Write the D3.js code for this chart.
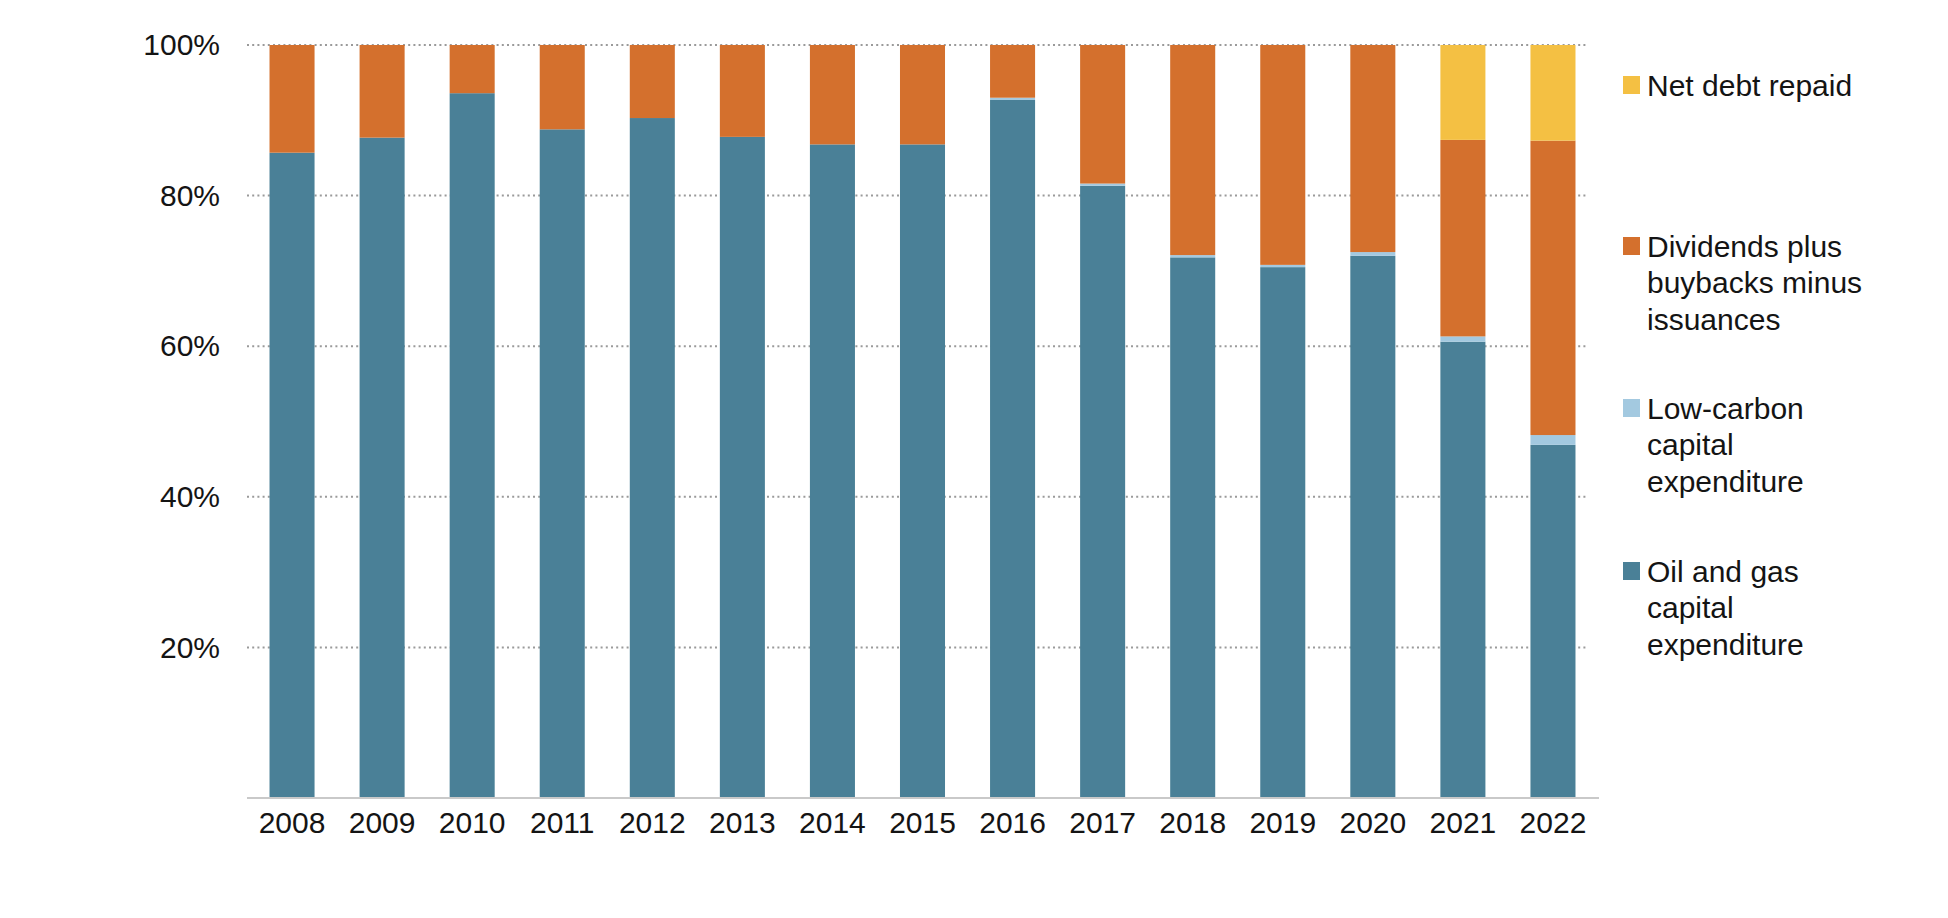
<!DOCTYPE html>
<html>
<head>
<meta charset="utf-8">
<script src="https://cdn.jsdelivr.net/npm/d3@7"></script>
<style>
    html, body { margin: 0; padding: 0; background: #fff; }
    text { font-family: "Liberation Sans", Arial, sans-serif; fill: #141414; }
</style>
</head>
<body>
<svg id="chart" width="1948" height="918"></svg>
<script>
// years on the x axis
var years = ['2008', '2009', '2010', '2011', '2012', '2013', '2014', '2015',
             '2016', '2017', '2018', '2019', '2020', '2021', '2022']

// shares of spending, in %
var oilGas     = [85.7, 87.7, 93.6, 88.8, 90.3, 87.8, 86.8, 86.8, 92.7, 81.3, 71.8, 70.5, 72.0, 60.6, 46.9]
var lowCarbon  = [0, 0, 0, 0, 0, 0, 0, 0, 0.3, 0.3, 0.3, 0.3, 0.5, 0.7, 1.3]
var dividends  = [14.3, 12.3, 6.4, 11.2, 9.7, 12.2, 13.2, 13.2, 7.0, 18.4, 27.9, 29.2, 27.5, 26.1, 39.1]
var netDebt    = [0, 0, 0, 0, 0, 0, 0, 0, 0, 0, 0, 0, 0, 12.6, 12.7]

var yTicks = [20, 40, 60, 80, 100]

// bottom to top stacking order
var seriesKeys = ['oil', 'low', 'div', 'debt']
var seriesColors = ['#4a8097', '#a3c9e0', '#d4702d', '#f4c043']

// legend reads top to bottom (reverse of stack)
var legendLabels = [
    ['Net debt repaid'],
    ['Dividends plus', 'buybacks minus', 'issuances'],
    ['Low-carbon', 'capital', 'expenditure'],
    ['Oil and gas', 'capital', 'expenditure']
]
var legendColors = ['#f4c043', '#d4702d', '#a3c9e0', '#4a8097']

var rows = years.map(function (yr, i) {
    return { year: yr, oil: oilGas[i], low: lowCarbon[i], div: dividends[i], debt: netDebt[i] }
})

var svg = d3.select('#chart')

var x = d3.scaleBand()
          .domain(years)
          .range([247, 1598])
          .paddingInner(0.5)
          .paddingOuter(0.25)
var y = d3.scaleLinear()
          .domain([0, 100])
          .range([798, 45])

// dotted gridlines
svg.append('g')
   .attr('class', 'grid')
   .selectAll('line')
   .data(yTicks)
   .join('line')
   .attr('x1', 247)
   .attr('x2', 1586)
   .attr('y1', function (d) { return y(d) })
   .attr('y2', function (d) { return y(d) })
   .attr('stroke', '#9a9a9a')
   .attr('stroke-width', 2)
   .attr('stroke-dasharray', '2,3.2')

var stack = d3.stack().keys(seriesKeys)
var layers = stack(rows)

svg.append('g')
   .selectAll('g')
   .data(layers)
   .join('g')
   .attr('fill', function (d, i) { return seriesColors[i] })
   .selectAll('rect')
   .data(function (d) { return d })
   .join('rect')
   .attr('x', function (d) { return x(d.data.year) })
   .attr('width', x.bandwidth())
   .attr('y', function (d) { return y(d[1]) })
   .attr('height', function (d) { return Math.max(0, y(d[0]) - y(d[1])) })

// x axis line
svg.append('line')
   .attr('x1', 247)
   .attr('x2', 1599)
   .attr('y1', y(0))
   .attr('y2', y(0))
   .attr('stroke', '#c9c9c9')
   .attr('stroke-width', 2)

var xAxis = svg.append('g')
               .attr('transform', 'translate(0,' + y(0) + ')')
               .call(d3.axisBottom(x).tickSize(0).tickPadding(14))
xAxis.select('.domain').remove()
xAxis.selectAll('text')
     .attr('font-size', 30)
     .attr('dy', '0.71em')
     .attr('fill', '#141414')

var yAxis = svg.append('g')
               .attr('transform', 'translate(247,0)')
               .call(d3.axisLeft(y).tickValues(yTicks).tickSize(0).tickPadding(27)
                       .tickFormat(function (d) { return d + '%' }))
yAxis.select('.domain').remove()
yAxis.selectAll('text')
     .attr('font-size', 30)
     .attr('fill', '#141414')

// legend
var legendTop = [85, 246, 408, 571]
var lineGap = 36.5
var legend = svg.append('g')
                .selectAll('g')
                .data(legendLabels)
                .join('g')
                .attr('transform', function (d, i) { return 'translate(1623,' + legendTop[i] + ')' })

legend.append('rect')
      .attr('x', 0)
      .attr('y', -9)
      .attr('width', 17)
      .attr('height', 18)
      .attr('fill', function (d, i) { return legendColors[i] })

legend.append('text')
      .attr('font-size', 30)
      .selectAll('tspan')
      .data(function (d) { return d })
      .join('tspan')
      .attr('x', 24)
      .attr('y', function (d, i) { return i * lineGap })
      .attr('dy', '0.35em')
      .text(function (d) { return d })
</script>
</body>
</html>
